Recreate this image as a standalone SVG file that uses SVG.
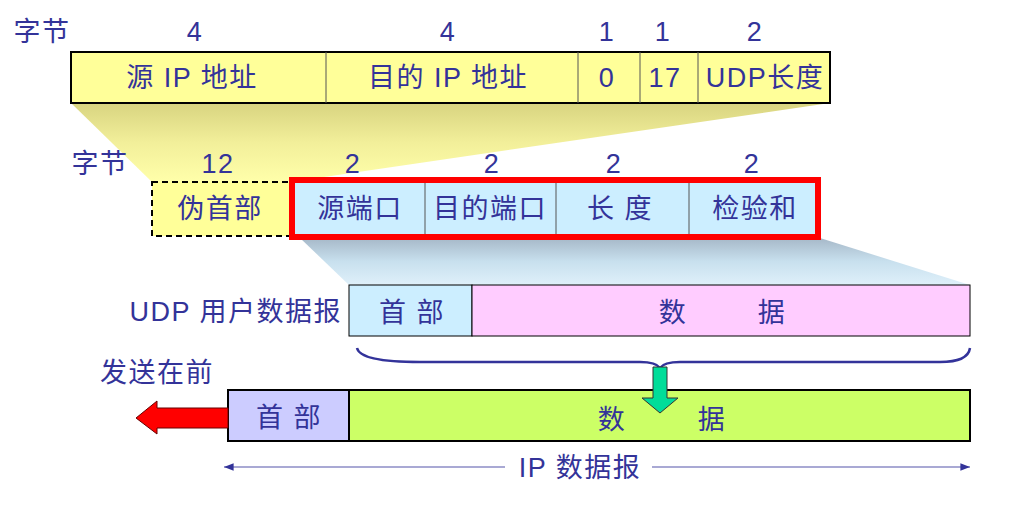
<svg xmlns="http://www.w3.org/2000/svg" width="1009" height="511" viewBox="0 0 1009 511">
<style>
text{font-family:"Liberation Sans","Noto Sans CJK SC",sans-serif;font-size:27px;letter-spacing:1.5px;fill:#333399;text-anchor:middle}
.cell{stroke:#000;stroke-width:2}
.div{stroke:#555;stroke-width:1}
</style>
<defs>
<linearGradient id="gy" x1="0" y1="0" x2="0" y2="1"><stop offset="0" stop-color="#d8d480"/><stop offset="0.5" stop-color="#f2ef9a"/><stop offset="1" stop-color="#ffffaa"/></linearGradient>
<linearGradient id="gb" x1="0" y1="0" x2="0" y2="1"><stop offset="0" stop-color="#a6b8c8"/><stop offset="0.5" stop-color="#c8e0ee"/><stop offset="1" stop-color="#dff0fa"/></linearGradient>
<marker id="ah" viewBox="0 0 10 10" refX="10" refY="5" markerWidth="10" markerHeight="8" orient="auto-start-reverse"><path d="M0,1 L10,5 L0,9 Z" fill="#333399"/></marker>
</defs>
<polygon points="71,103 830,103 290,182 152,182" fill="url(#gy)"/>
<polygon points="300,238 820,238 970,285 349,285" fill="url(#gb)"/>
<g id="ipheader">
<text x="42" y="41">字节</text>
<text x="195" y="41">4</text><text x="448" y="41">4</text><text x="607" y="41">1</text><text x="663" y="41">1</text><text x="755" y="41">2</text>
<rect x="71" y="52" width="759" height="51" fill="#ffff99" class="cell"/>
<line x1="326" y1="52" x2="326" y2="103" class="div"/><line x1="578" y1="52" x2="578" y2="103" class="div"/><line x1="640" y1="52" x2="640" y2="103" class="div"/><line x1="698" y1="52" x2="698" y2="103" class="div"/>
<text x="192" y="87">源 IP 地址</text><text x="448" y="87">目的 IP 地址</text><text x="607" y="87">0</text><text x="665" y="87">17</text><text x="765" y="87">UDP长度</text>
</g>
<g id="udpheader">
<text x="100" y="173">字节</text>
<text x="218" y="173">12</text><text x="353" y="173">2</text><text x="492" y="173">2</text><text x="614" y="173">2</text><text x="752" y="173">2</text>
<rect x="152" y="182" width="138" height="54" fill="#ffff99" stroke="#000" stroke-width="2" stroke-dasharray="6,4"/>
<text x="220" y="218">伪首部</text>
<rect x="293" y="182" width="524" height="53" fill="#cceeff"/>
<line x1="425" y1="182" x2="425" y2="235" class="div"/><line x1="556" y1="182" x2="556" y2="235" class="div"/><line x1="689" y1="182" x2="689" y2="235" class="div"/>
<rect x="292" y="180" width="526" height="57" fill="none" stroke="#ff0000" stroke-width="6"/>
<text x="360" y="218">源端口</text><text x="490" y="218">目的端口</text><text x="620" y="218">长  度</text><text x="755" y="218">检验和</text>
</g>
<g id="udp">
<text x="342" y="321" style="text-anchor:end">UDP 用户数据报</text>
<rect x="349" y="285" width="123" height="51" fill="#cceeff" stroke="#000" stroke-width="1"/>
<rect x="472" y="285" width="498" height="51" fill="#ffccff" stroke="#000" stroke-width="1"/>
<text x="412" y="322">首 部</text><text x="673" y="322">数</text><text x="772" y="322">据</text>
</g>
<g id="ip">
<text x="157" y="382">发送在前</text>
<rect x="228" y="390" width="121" height="51" fill="#ccccff" class="cell"/>
<rect x="349" y="390" width="621" height="51" fill="#ccff66" class="cell"/>
<text x="289" y="427">首 部</text><text x="612" y="429">数</text><text x="712" y="429">据</text>
</g>
<g id="connectors">
<path d="M357,348 Q360,362 420,362 L640,362 Q656,362 660,368 Q664,362 680,362 L940,362 Q968,362 970,348" fill="none" stroke="#33339a" stroke-width="2.5"/>
<polygon points="653,367 667,367 667,398 678,398 660,413 642,398 653,398" fill="#00dd99" stroke="#333" stroke-width="1"/>
<polygon points="228,408 157,408 157,401 136,418 157,434 157,428 228,428" fill="#ff0000" stroke="#600" stroke-width="1"/>
<line x1="224" y1="467" x2="505" y2="467" stroke="#5555aa" stroke-width="1.2" marker-start="url(#ah)"/>
<line x1="652" y1="467" x2="970" y2="467" stroke="#5555aa" stroke-width="1.2" marker-end="url(#ah)"/>
<text x="580" y="477">IP 数据报</text>
</g>
</svg>
